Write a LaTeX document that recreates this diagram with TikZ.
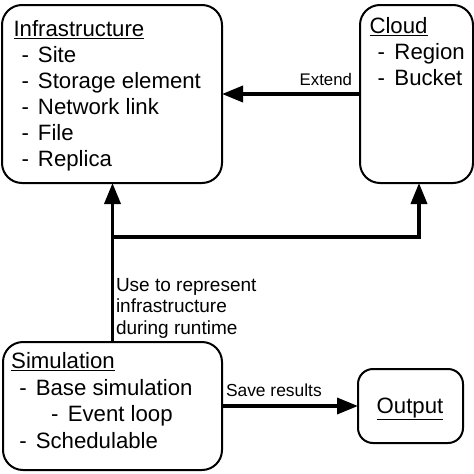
\documentclass[tikz,border=0pt]{standalone}
\usepackage{fontspec}
\setmainfont{Liberation Sans}
\usetikzlibrary{arrows.meta}
\begin{document}
\begin{tikzpicture}[x=1pt,y=-1pt,
  box/.style={draw=black,line width=2pt,rounded corners=20pt,inner sep=0pt,outer sep=0pt},
  txt/.style={anchor=base west,inner sep=0pt,outer sep=0pt,font=\fontsize{22.2}{26}\selectfont},
  lbl/.style={anchor=base west,inner sep=0pt,outer sep=0pt,font=\fontsize{19}{22}\selectfont},
  conn/.style={line width=3.6pt,-{Triangle[length=21pt,width=16pt]}},
  plain/.style={line width=3.6pt}]
\useasboundingbox (0,0) rectangle (474,474);
\fill[white] (0,0) rectangle (474,474);
% boxes
\node[box,minimum width=220pt,minimum height=178pt] (infra) at (112,94) {};
\node[box,minimum width=113pt,minimum height=178pt] (cloud) at (416.5,94) {};
\node[box,minimum width=219pt,minimum height=128pt] (sim) at (112.5,406) {};
\node[box,rounded corners=15pt,minimum width=105pt,minimum height=74pt] (out) at (410.5,406) {};
% infrastructure text
\node[txt] (it) at (13.5,36.2) {\underline{Infrastructure}};
\node[txt] (i1) at (21.5,62.3) {\makebox[16.5pt][l]{-}Site};
\node[txt] (i2) at (21.5,88.4) {\makebox[16.5pt][l]{-}Storage element};
\node[txt] (i3) at (21.5,114.5) {\makebox[16.5pt][l]{-}Network link};
\node[txt] (i4) at (21.5,140.6) {\makebox[16.5pt][l]{-}File};
\node[txt] (i5) at (21.5,166.7) {\makebox[16.5pt][l]{-}Replica};
% cloud text
\node[txt] (ct) at (369.5,33.3) {\underline{Cloud}};
\node[txt] (c1) at (377.5,59.4) {\makebox[17pt][l]{-}Region};
\node[txt] (c2) at (377.5,85.5) {\makebox[17pt][l]{-}Bucket};
% simulation text
\node[txt] (st) at (11.2,368.3) {\underline{Simulation}};
\node[txt] (s1) at (19.5,395) {\makebox[16.3pt][l]{-}Base simulation};
\node[txt] (s2) at (51.2,421.7) {\makebox[16.6pt][l]{-}Event loop};
\node[txt] (s3) at (19.5,448.3) {\makebox[16.3pt][l]{-}Schedulable};
% output text
\node[txt,anchor=base] (ot) at (410,413.3) {\underline{Output}};
% connectors
\draw[conn] (cloud.west) -- (infra.east);
\draw[conn] (sim.east) -- (out.west);
\coordinate (j) at (112.5,237);
\coordinate (k) at (419,237);
\draw[plain] (sim.north) -- (j);
\draw[conn] (j) -- (j |- infra.south);
\draw[conn,line cap=butt] (j) -- (k) -- (k |- cloud.south);
% labels
\node[lbl,anchor=base east,font=\fontsize{16.8}{20}\selectfont] (le) at (352,85) {Extend};
\node[lbl,font=\fontsize{17.4}{20}\selectfont] (ls) at (226,396) {Save results};
\node[lbl] (lu1) at (116,291) {Use to represent};
\node[lbl] (lu2) at (116,312.7) {infrastructure};
\node[lbl] (lu3) at (116,334) {during runtime};
\end{tikzpicture}
\end{document}
